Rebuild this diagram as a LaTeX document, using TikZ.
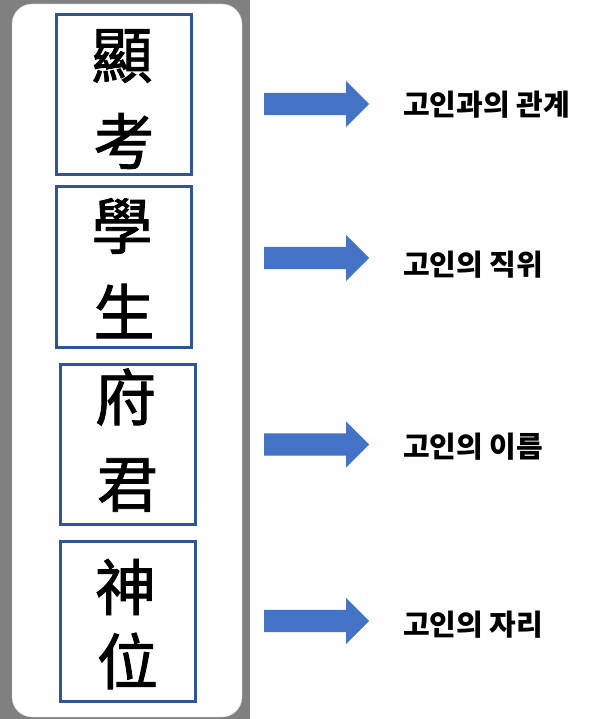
\documentclass[tikz,border=0pt]{standalone}
\usepackage{fontspec}
\newfontfamily\krfont{Noto Sans CJK KR}
\newfontfamily\tcfont{Noto Sans CJK TC}[FakeBold=1.5]
\usetikzlibrary{shapes.arrows}
\definecolor{frameblue}{HTML}{2F5597}
\definecolor{arrowblue}{HTML}{4472C4}
\definecolor{stripgray}{HTML}{808080}
\begin{document}
\begin{tikzpicture}[x=1pt, y=-1pt,
  tablet/.style={rectangle, draw=frameblue, line width=3pt, fill=white,
              minimum width=135pt, minimum height=160pt, inner sep=0pt},
  glyph/.style={inner sep=0pt, font=\tcfont\fontsize{61}{61}\selectfont},
  arr/.style={single arrow, fill=arrowblue, minimum height=105pt, anchor=tail,
              inner xsep=0pt, inner ysep=11pt, single arrow head extend=12pt},
  lbl/.style={anchor=west, inner sep=0pt,
              font=\krfont\bfseries\fontsize{29}{32}\selectfont}
]
  \useasboundingbox (0,0) rectangle (599,719);

  % Hintergrund
  \fill[stripgray] (0,0) rectangle (250,719);
  \fill[white, draw=gray!40, rounded corners=20pt] (12,4) rectangle (242,717);

  % Tafeln
  \foreach \i/\x/\y/\a/\ya/\b/\yb in {1/124/94.5/顯/56/考/141,
                                       2/124/267/學/226/生/311,
                                       3/127.5/444.5/府/397/君/485,
                                       4/127.5/621/神/587/位/661} {
    \node[tablet] (t\i) at (\x, \y) {};
    \node[glyph] (t\i-a) at (\x-2, \ya) {\a};
    \node[glyph] (t\i-b) at (\x, \yb) {\b};
  }

  % Pfeile und Beschriftungen
  \foreach \i/\y/\ty/\w in {1/104/105/고인과의 관계, 2/258/265/고인의 직위,
                            3/444.5/447/고인의 이름, 4/621/625/고인의 자리} {
    \node[arr] (a\i) at (264, \y) {};
    \node[lbl] (l\i) at (403, \ty) {\w};
  }
\end{tikzpicture}
\end{document}
